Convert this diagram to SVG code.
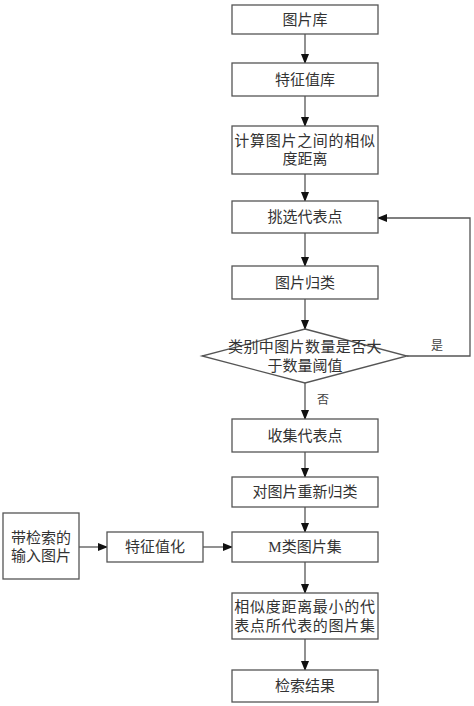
<svg xmlns="http://www.w3.org/2000/svg" width="474" height="706" viewBox="0 0 474 706">
<style>
.box{fill:#fff;stroke:#555;stroke-width:1.3}
.t{font-family:"Liberation Serif","Noto Sans CJK SC",serif;font-size:15px;fill:#333;text-anchor:middle;dominant-baseline:central}
.c{fill:none;stroke:#555;stroke-width:1.3}
.lbl{font-family:"Liberation Serif","Noto Sans CJK SC",serif;font-size:12px;fill:#444;text-anchor:middle;dominant-baseline:central}
</style>
<defs>
<marker id="ah" markerWidth="10" markerHeight="8" refX="9" refY="4" orient="auto" markerUnits="userSpaceOnUse">
<path d="M0,0 L10,4 L0,8 Z" fill="#111"/>
</marker>
</defs>
<rect width="474" height="706" fill="#fff"/>
<g id="connectors">
<line class="c" x1="305" y1="34" x2="305" y2="63" marker-end="url(#ah)"/>
<line class="c" x1="305" y1="96" x2="305" y2="126" marker-end="url(#ah)"/>
<line class="c" x1="305" y1="174" x2="305" y2="201" marker-end="url(#ah)"/>
<line class="c" x1="305" y1="233" x2="305" y2="266" marker-end="url(#ah)"/>
<line class="c" x1="305" y1="299" x2="305" y2="329" marker-end="url(#ah)"/>
<line class="c" x1="305" y1="383" x2="305" y2="419" marker-end="url(#ah)"/>
<line class="c" x1="305" y1="452" x2="305" y2="477" marker-end="url(#ah)"/>
<line class="c" x1="305" y1="507" x2="305" y2="532" marker-end="url(#ah)"/>
<line class="c" x1="305" y1="562" x2="305" y2="593" marker-end="url(#ah)"/>
<line class="c" x1="305" y1="639" x2="305" y2="670" marker-end="url(#ah)"/>
<line class="c" x1="79" y1="547" x2="107" y2="547" marker-end="url(#ah)"/>
<line class="c" x1="203" y1="547" x2="232" y2="547" marker-end="url(#ah)"/>
<polyline class="c" points="407,356 470,356 470,218 378,218" marker-end="url(#ah)"/>
<text class="lbl" x="437" y="346">是</text>
<text class="lbl" x="323" y="400">否</text>
</g>
<g id="n1"><rect class="box" x="232" y="5" width="146" height="29"/><text class="t" x="305" y="19.5">图片库</text></g>
<g id="n2"><rect class="box" x="232" y="63" width="146" height="33"/><text class="t" x="305" y="79.5">特征值库</text></g>
<g id="n3"><rect class="box" x="232" y="126" width="146" height="48"/><text class="t" x="305" y="141" letter-spacing="0.7">计算图片之间的相似</text><text class="t" x="305" y="159">度距离</text></g>
<g id="n4"><rect class="box" x="232" y="201" width="146" height="32"/><text class="t" x="305" y="217">挑选代表点</text></g>
<g id="n5"><rect class="box" x="232" y="266" width="146" height="33"/><text class="t" x="305" y="282.5">图片归类</text></g>
<g id="n6"><polygon class="box" points="305,329 407,356 305,383 202,356"/><text class="t" x="305" y="347" letter-spacing="0.4">类别中图片数量是否大</text><text class="t" x="305" y="366">于数量阈值</text></g>
<g id="n7"><rect class="box" x="232" y="419" width="146" height="33"/><text class="t" x="305" y="435.5">收集代表点</text></g>
<g id="n8"><rect class="box" x="232" y="477" width="146" height="30"/><text class="t" x="305" y="492">对图片重新归类</text></g>
<g id="n9"><rect class="box" x="232" y="532" width="146" height="30"/><text class="t" x="305" y="547">M类图片集</text></g>
<g id="n10"><rect class="box" x="3" y="513" width="76" height="66"/><text class="t" x="41" y="538">带检索的</text><text class="t" x="41" y="556">输入图片</text></g>
<g id="n11"><rect class="box" x="107" y="532" width="96" height="30"/><text class="t" x="155" y="547">特征值化</text></g>
<g id="n12"><rect class="box" x="232" y="593" width="146" height="46"/><text class="t" x="305" y="607" letter-spacing="0.7">相似度距离最小的代</text><text class="t" x="305" y="626" letter-spacing="0.7">表点所代表的图片集</text></g>
<g id="n13"><rect class="box" x="232" y="670" width="146" height="32"/><text class="t" x="305" y="686">检索结果</text></g>
</svg>
